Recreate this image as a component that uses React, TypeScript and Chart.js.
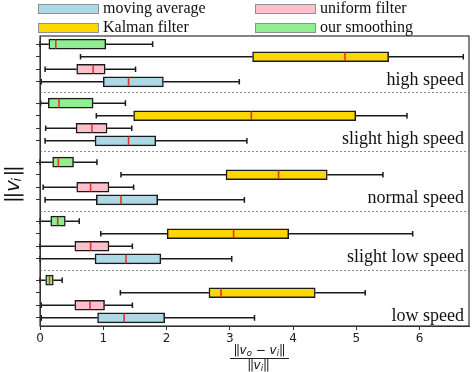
import React, { useEffect, useRef } from "react";
import { Chart, registerables } from "chart.js";

Chart.register(...registerables);

// Groups, top to bottom
const groups = ["high speed", "slight high speed", "normal speed", "slight low speed", "low speed"];

// our smoothing (green)
const ourMin = [0.0, 0.01, 0.0, 0.0, 0.0];
const ourQ1 = [0.14, 0.13, 0.2, 0.17, 0.09];
const ourMed = [0.25, 0.3, 0.29, 0.28, 0.15];
const ourQ3 = [1.04, 0.84, 0.53, 0.4, 0.21];
const ourMax = [1.78, 1.35, 0.9, 0.62, 0.35];

// Kalman filter (yellow)
const kalMin = [0.64, 0.89, 1.28, 0.96, 1.27];
const kalQ1 = [3.36, 1.48, 2.94, 2.01, 2.67];
const kalMed = [4.82, 3.34, 3.77, 3.06, 2.86];
const kalQ3 = [5.51, 4.99, 4.54, 3.93, 4.35];
const kalMax = [6.69, 5.8, 5.42, 5.89, 5.14];

// uniform filter (pink)
const uniMin = [0.08, 0.09, 0.05, 0.0, 0.02];
const uniQ1 = [0.58, 0.57, 0.58, 0.55, 0.55];
const uniMed = [0.84, 0.82, 0.8, 0.8, 0.79];
const uniQ3 = [1.03, 1.06, 1.09, 1.09, 1.02];
const uniMax = [1.51, 1.45, 1.48, 1.46, 1.46];

// moving average (blue)
const movMin = [0.02, 0.08, 0.08, 0.0, 0.02];
const movQ1 = [1.0, 0.87, 0.89, 0.87, 0.91];
const movMed = [1.4, 1.4, 1.28, 1.36, 1.33];
const movQ3 = [1.95, 1.83, 1.86, 1.91, 1.97];
const movMax = [3.15, 3.27, 3.23, 3.03, 3.39];

const xTicks = [0, 1, 2, 3, 4, 5, 6];

const GROUP_STEP = 4.7;

type Series = {
  label: string;
  color: string;
  row: number;
  min: number[];
  q1: number[];
  med: number[];
  q3: number[];
  max: number[];
};

const series: Series[] = [
  { label: "our smoothing", color: "#90ee90", row: 0, min: ourMin, q1: ourQ1, med: ourMed, q3: ourQ3, max: ourMax },
  { label: "Kalman filter", color: "#ffd700", row: 1, min: kalMin, q1: kalQ1, med: kalMed, q3: kalQ3, max: kalMax },
  { label: "uniform filter", color: "#ffc0cb", row: 2, min: uniMin, q1: uniQ1, med: uniMed, q3: uniQ3, max: uniMax },
  { label: "moving average", color: "#add8e6", row: 3, min: movMin, q1: movQ1, med: movMed, q3: movQ3, max: movMax },
];

const rowPos = (g: number, r: number) => g * GROUP_STEP + r;

const legendLayout = [
  { label: "moving average", color: "#add8e6", x: 38, y: 4 },
  { label: "uniform filter", color: "#ffc0cb", x: 255, y: 4 },
  { label: "Kalman filter", color: "#ffd700", x: 38, y: 23 },
  { label: "our smoothing", color: "#90ee90", x: 255, y: 23 },
];

type Piece = { t: string; font: string; dy?: number; adv?: number };

function drawPieces(ctx: CanvasRenderingContext2D, pieces: Piece[], cx: number, cy: number) {
  let total = 0;
  const widths = pieces.map((p) => {
    ctx.font = p.font;
    const w = p.adv !== undefined ? p.adv : ctx.measureText(p.t).width;
    total += w;
    return w;
  });
  let xx = cx - total / 2;
  ctx.textBaseline = "middle";
  ctx.textAlign = "left";
  pieces.forEach((p, i) => {
    ctx.font = p.font;
    ctx.fillText(p.t, xx, cy + (p.dy || 0));
    xx += widths[i];
  });
}

const extrasPlugin = {
  id: "boxExtras",
  afterDatasetsDraw(chart: any) {
    const { ctx, chartArea, scales } = chart;
    const xs = scales.x;
    const ys = scales.y;
    ctx.save();
    // group separators
    ctx.strokeStyle = "#8a8a8a";
    ctx.lineWidth = 1;
    ctx.setLineDash([2, 2]);
    for (let g = 0; g < groups.length - 1; g++) {
      const py = Math.round(ys.getPixelForValue(g * GROUP_STEP + 3.85)) + 0.5;
      ctx.beginPath();
      ctx.moveTo(chartArea.left, py);
      ctx.lineTo(chartArea.right, py);
      ctx.stroke();
    }
    ctx.setLineDash([]);
    // whiskers and medians
    series.forEach((s) => {
      for (let g = 0; g < groups.length; g++) {
        const py = ys.getPixelForValue(rowPos(g, s.row));
        const pMin = xs.getPixelForValue(s.min[g]);
        const pQ1 = xs.getPixelForValue(s.q1[g]);
        const pQ3 = xs.getPixelForValue(s.q3[g]);
        const pMax = xs.getPixelForValue(s.max[g]);
        const pMed = xs.getPixelForValue(s.med[g]);
        ctx.strokeStyle = "#1a1a1a";
        ctx.lineWidth = 1.5;
        ctx.beginPath();
        ctx.moveTo(pMin, py);
        ctx.lineTo(pQ1, py);
        ctx.moveTo(pQ3, py);
        ctx.lineTo(pMax, py);
        ctx.moveTo(pMin, py - 2.8);
        ctx.lineTo(pMin, py + 2.8);
        ctx.moveTo(pMax, py - 2.8);
        ctx.lineTo(pMax, py + 2.8);
        ctx.stroke();
        ctx.strokeStyle = "#e0352b";
        ctx.lineWidth = 1.6;
        ctx.beginPath();
        ctx.moveTo(pMed, py - 4.3);
        ctx.lineTo(pMed, py + 4.3);
        ctx.stroke();
      }
    });
    // group labels
    ctx.fillStyle = "#111";
    ctx.font = '18px "Liberation Serif"';
    ctx.textAlign = "right";
    ctx.textBaseline = "alphabetic";
    groups.forEach((name, g) => {
      const py = ys.getPixelForValue(rowPos(g, 3));
      ctx.fillText(name, chartArea.right - 5, py + 3);
    });
    // frame
    ctx.strokeStyle = "#333";
    ctx.lineWidth = 1.2;
    ctx.strokeRect(chartArea.left, chartArea.top, chartArea.right - chartArea.left, chartArea.bottom - chartArea.top);
    ctx.restore();
  },
  afterDraw(chart: any) {
    const { ctx, chartArea } = chart;
    ctx.save();
    // legend
    legendLayout.forEach((it) => {
      ctx.fillStyle = it.color;
      ctx.fillRect(it.x, it.y, 61, 10);
      ctx.strokeStyle = "#8f8f8f";
      ctx.lineWidth = 1;
      ctx.strokeRect(it.x + 0.5, it.y + 0.5, 60, 9);
      ctx.fillStyle = "#111";
      ctx.font = '16px "Liberation Serif"';
      ctx.textAlign = "left";
      ctx.textBaseline = "middle";
      ctx.fillText(it.label, it.x + 65, it.y + 5);
    });
    // y title, rotated
    ctx.fillStyle = "#111";
    ctx.save();
    ctx.translate(14, (chartArea.top + chartArea.bottom) / 2 + 4);
    ctx.rotate(-Math.PI / 2);
    const big = '20px "DejaVu Sans"';
    const bigI = 'italic 20px "DejaVu Sans"';
    const subI = 'italic 13px "DejaVu Sans"';
    drawPieces(
      ctx,
      [
        { t: "|", font: big, adv: 4.5 },
        { t: "|", font: big, adv: 6.5 },
        { t: "v", font: bigI, adv: 10.5 },
        { t: "i", font: subI, dy: 4, adv: 5 },
        { t: "|", font: big, adv: 4.5 },
        { t: "|", font: big, adv: 5 },
      ],
      0,
      0
    );
    ctx.restore();
    // x title (fraction)
    const cx = 259;
    const f = '12px "DejaVu Sans"';
    const fI = 'italic 12px "DejaVu Sans"';
    const fs = 'italic 8.5px "DejaVu Sans"';
    drawPieces(
      ctx,
      [
        { t: "|", font: f, adv: 2.6 },
        { t: "|", font: f, adv: 3.6 },
        { t: "v", font: fI },
        { t: "o", font: fs, dy: 2.5 },
        { t: " − ", font: f },
        { t: "v", font: fI },
        { t: "i", font: fs, dy: 2.5 },
        { t: "|", font: f, adv: 2.6 },
        { t: "|", font: f, adv: 3 },
      ],
      cx,
      351
    );
    ctx.strokeStyle = "#222";
    ctx.lineWidth = 1;
    ctx.beginPath();
    ctx.moveTo(cx - 29, 358.5);
    ctx.lineTo(cx + 30, 358.5);
    ctx.stroke();
    drawPieces(
      ctx,
      [
        { t: "|", font: f, adv: 2.6 },
        { t: "|", font: f, adv: 3.6 },
        { t: "v", font: fI },
        { t: "i", font: fs, dy: 2.5 },
        { t: "|", font: f, adv: 2.6 },
        { t: "|", font: f, adv: 3 },
      ],
      cx - 1,
      366
    );
    ctx.restore();
  },
};

export default function App() {
  const ref = useRef<HTMLCanvasElement | null>(null);
  useEffect(() => {
    if (!ref.current) return;
    const rowTicks: number[] = [];
    groups.forEach((_, g) => {
      for (let r = 0; r < 4; r++) rowTicks.push(rowPos(g, r));
    });
    const datasets = series.map((s) => ({
      label: s.label,
      data: groups.map((_, g) => ({ x: [s.q1[g], s.q3[g]], y: rowPos(g, s.row) })),
      backgroundColor: s.color,
      borderColor: "#1a1a1a",
      borderWidth: 1.5,
      borderSkipped: false,
      barThickness: 10,
      grouped: false,
    }));
    const chart = new Chart(ref.current, {
      type: "bar",
      data: { datasets } as any,
      options: {
        animation: false,
        responsive: true,
        maintainAspectRatio: false,
        indexAxis: "y",
        layout: { padding: { top: 36, right: 5, left: 0, bottom: 0 } },
        plugins: { legend: { display: false }, tooltip: { enabled: false } },
        scales: {
          x: {
            type: "linear",
            min: 0,
            max: 6.78,
            afterFit: (s: any) => {
              s.height = 46;
            },
            afterBuildTicks: (s: any) => {
              s.ticks = xTicks.map((v) => ({ value: v }));
            },
            ticks: {
              includeBounds: false,
              color: "#222",
              font: { family: "DejaVu Sans", size: 12 },
              padding: 2,
              maxRotation: 0,
            },
            grid: { drawOnChartArea: false, tickLength: 4, color: "#333" },
            border: { display: true, color: "#333" },
          },
          y: {
            type: "linear",
            reverse: true,
            min: -0.65,
            max: 4 * GROUP_STEP + 3 + 0.65,
            offset: false,
            afterFit: (s: any) => {
              s.width = 40;
            },
            afterBuildTicks: (s: any) => {
              s.ticks = rowTicks.map((v) => ({ value: v }));
            },
            ticks: { callback: () => "", autoSkip: false },
            grid: { drawOnChartArea: false, tickLength: 4, color: "#333", offset: false },
            border: { display: true, color: "#333" },
          },
        },
      } as any,
      plugins: [extrasPlugin],
    });
    return () => chart.destroy();
  }, []);
  return (
    <div style={{ position: "fixed", left: 0, top: 0, width: 474, height: 372, background: "#fff" }}>
      <canvas ref={ref} />
    </div>
  );
}
